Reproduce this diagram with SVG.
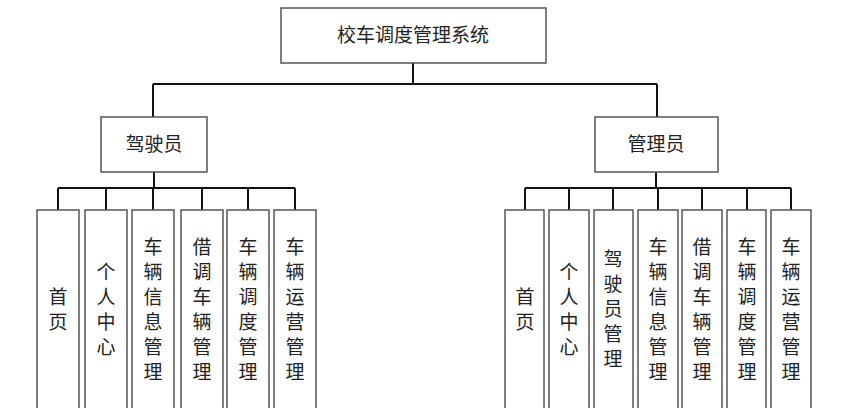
<svg xmlns="http://www.w3.org/2000/svg" width="844" height="408" viewBox="0 0 844 408">
<style>
rect{fill:#fff;stroke:#555;stroke-width:1.5}
text{font-family:"Noto Sans CJK SC",sans-serif;font-size:19px;fill:#222;text-anchor:middle}
.c path{fill:none;stroke:#111;stroke-width:2}
</style>
<rect x="0" y="0" width="844" height="408" style="fill:#fff;stroke:none"/>
<g class="c">
<path d="M413 63V84M153 84H657M153 84V117M657 84V117"/>
<path d="M154 172V188M58 188H295M58 188V210M106 188V210M153 188V210M202 188V210M248 188V210M295 188V210"/>
<path d="M656 172V188M525 188H791M525 188V210M569 188V210M613 188V210M658 188V210M702 188V210M747 188V210M791 188V210"/>
</g>
<g id="root"><rect x="281" y="8" width="265" height="55"/><text x="413" y="42">校车调度管理系统</text></g>
<g id="driver"><rect x="101" y="117" width="106" height="55"/><text x="154" y="151">驾驶员</text></g>
<g id="admin"><rect x="595" y="117" width="123" height="55"/><text x="656" y="151">管理员</text></g>
<g id="d1"><rect x="37" y="210" width="42" height="210"/><text x="58"><tspan x="58" y="304">首</tspan><tspan x="58" y="329">页</tspan></text></g>
<g id="d2"><rect x="85" y="210" width="42" height="210"/><text><tspan x="106" y="279">个</tspan><tspan x="106" y="304">人</tspan><tspan x="106" y="329">中</tspan><tspan x="106" y="354">心</tspan></text></g>
<g id="d3"><rect x="132" y="210" width="42" height="210"/><text><tspan x="153" y="254">车</tspan><tspan x="153" y="279">辆</tspan><tspan x="153" y="304">信</tspan><tspan x="153" y="329">息</tspan><tspan x="153" y="354">管</tspan><tspan x="153" y="379">理</tspan></text></g>
<g id="d4"><rect x="181" y="210" width="42" height="210"/><text><tspan x="202" y="254">借</tspan><tspan x="202" y="279">调</tspan><tspan x="202" y="304">车</tspan><tspan x="202" y="329">辆</tspan><tspan x="202" y="354">管</tspan><tspan x="202" y="379">理</tspan></text></g>
<g id="d5"><rect x="227" y="210" width="42" height="210"/><text><tspan x="248" y="254">车</tspan><tspan x="248" y="279">辆</tspan><tspan x="248" y="304">调</tspan><tspan x="248" y="329">度</tspan><tspan x="248" y="354">管</tspan><tspan x="248" y="379">理</tspan></text></g>
<g id="d6"><rect x="274" y="210" width="42" height="210"/><text><tspan x="295" y="254">车</tspan><tspan x="295" y="279">辆</tspan><tspan x="295" y="304">运</tspan><tspan x="295" y="329">营</tspan><tspan x="295" y="354">管</tspan><tspan x="295" y="379">理</tspan></text></g>
<g id="a1"><rect x="505" y="210" width="39" height="210"/><text><tspan x="525" y="304">首</tspan><tspan x="525" y="329">页</tspan></text></g>
<g id="a2"><rect x="549" y="210" width="40" height="210"/><text><tspan x="569" y="279">个</tspan><tspan x="569" y="304">人</tspan><tspan x="569" y="329">中</tspan><tspan x="569" y="354">心</tspan></text></g>
<g id="a3"><rect x="594" y="210" width="39" height="210"/><text><tspan x="613" y="266">驾</tspan><tspan x="613" y="291">驶</tspan><tspan x="613" y="316">员</tspan><tspan x="613" y="341">管</tspan><tspan x="613" y="366">理</tspan></text></g>
<g id="a4"><rect x="638" y="210" width="40" height="210"/><text><tspan x="658" y="254">车</tspan><tspan x="658" y="279">辆</tspan><tspan x="658" y="304">信</tspan><tspan x="658" y="329">息</tspan><tspan x="658" y="354">管</tspan><tspan x="658" y="379">理</tspan></text></g>
<g id="a5"><rect x="682" y="210" width="40" height="210"/><text><tspan x="702" y="254">借</tspan><tspan x="702" y="279">调</tspan><tspan x="702" y="304">车</tspan><tspan x="702" y="329">辆</tspan><tspan x="702" y="354">管</tspan><tspan x="702" y="379">理</tspan></text></g>
<g id="a6"><rect x="727" y="210" width="39" height="210"/><text><tspan x="747" y="254">车</tspan><tspan x="747" y="279">辆</tspan><tspan x="747" y="304">调</tspan><tspan x="747" y="329">度</tspan><tspan x="747" y="354">管</tspan><tspan x="747" y="379">理</tspan></text></g>
<g id="a7"><rect x="771" y="210" width="40" height="210"/><text><tspan x="791" y="254">车</tspan><tspan x="791" y="279">辆</tspan><tspan x="791" y="304">运</tspan><tspan x="791" y="329">营</tspan><tspan x="791" y="354">管</tspan><tspan x="791" y="379">理</tspan></text></g>
</svg>
